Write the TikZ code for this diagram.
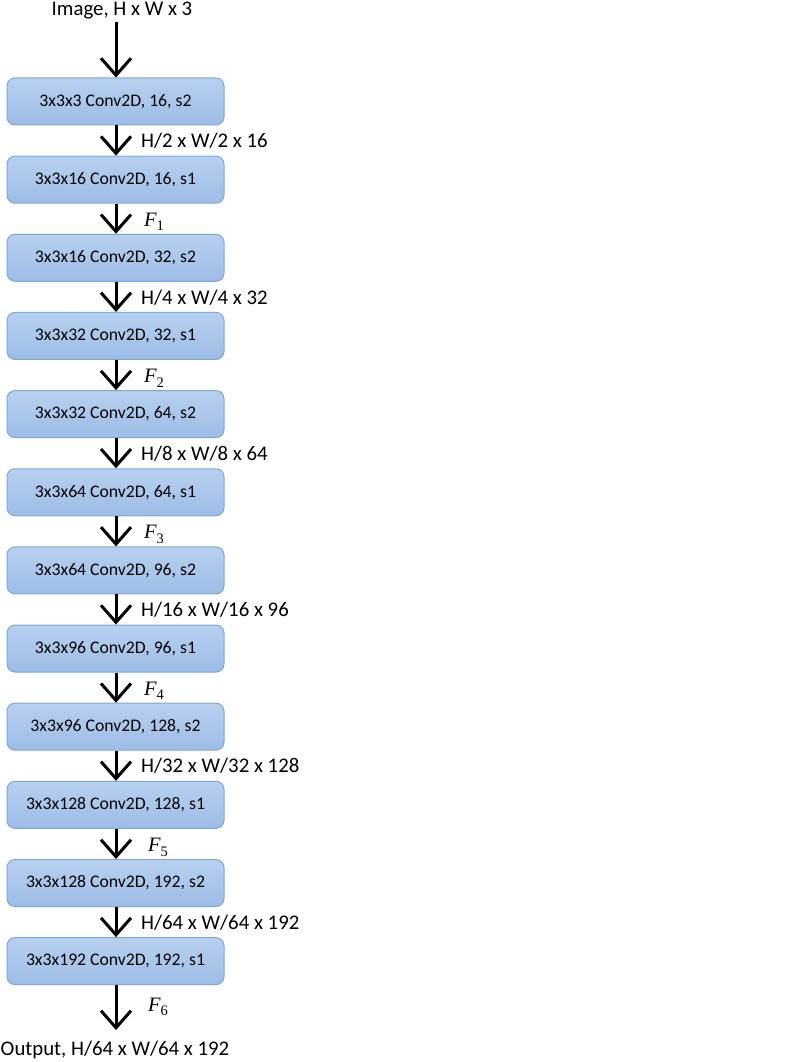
\documentclass[tikz,border=0pt]{standalone}
\usepackage{fontspec}
\setmainfont{Carlito}
\newfontfamily\fserif{Liberation Serif}
\usetikzlibrary{arrows.meta}
\definecolor{boxtop}{HTML}{B8D0F0}
\definecolor{boxbot}{HTML}{9CBDE6}
\definecolor{boxline}{HTML}{7FA6D8}
\newcommand{\featmap}[1]{{\fserif\itshape F}\raisebox{-4.5pt}{\fserif\fontsize{14.5}{15}\selectfont #1}}
\tikzset{
  layer/.style={draw=boxline, line width=1pt, rounded corners=8pt, top color=boxtop, bottom color=boxbot,
    minimum width=217pt, minimum height=47pt, inner sep=0pt, font=\fontsize{17.7}{20}\selectfont},
  flow/.style={line width=3pt, -{Straight Barb[length=17pt,width=30pt]}},
  dimlabel/.style={anchor=west, inner sep=0pt, font=\fontsize{20.8}{24}\selectfont},
  flabel/.style={anchor=west, inner sep=0pt, font=\fontsize{20.5}{24}\selectfont},
  endlabel/.style={inner sep=0pt, font=\fontsize{20.8}{24}\selectfont}
}
\begin{document}
\begin{tikzpicture}[x=1pt,y=-1pt]
\useasboundingbox (0,0) rectangle (787,1062);
\node[endlabel] (in) at (122,11) {Image, H x W x 3};
\coordinate (instart) at (116,22);
\foreach \i/\t in {1/{3x3x3 Conv2D, 16, s2},2/{3x3x16 Conv2D, 16, s1},3/{3x3x16 Conv2D, 32, s2},4/{3x3x32 Conv2D, 32, s1},5/{3x3x32 Conv2D, 64, s2},6/{3x3x64 Conv2D, 64, s1},7/{3x3x64 Conv2D, 96, s2},8/{3x3x96 Conv2D, 96, s1},9/{3x3x96 Conv2D, 128, s2},10/{3x3x128 Conv2D, 128, s1},11/{3x3x128 Conv2D, 192, s2},12/{3x3x192 Conv2D, 192, s1}}
  \node[layer] (b\i) at (115.5,{101.5+(\i-1)*78.15}) {\t};
\draw[flow] (instart) -- (b1.north -| instart);
\foreach \a/\b in {1/2,2/3,3/4,4/5,5/6,6/7,7/8,8/9,9/10,10/11,11/12}
  \draw[flow] (b\a.south -| instart) -- (b\b.north -| instart);
\coordinate (outend) at (116,1030);
\draw[flow] (b12.south -| instart) -- (outend);
\node[endlabel] (out) at (115,1050) {Output, H/64 x W/64 x 192};
% labels
\node[dimlabel] (l1) at (141,{141+0*156.3}) {H/2 x W/2 x 16};
\node[dimlabel] (l3) at (141,{141+1*156.3}) {H/4 x W/4 x 32};
\node[dimlabel] (l5) at (141,{141+2*156.3}) {H/8 x W/8 x 64};
\node[dimlabel] (l7) at (141,{141+3*156.3}) {H/16 x W/16 x 96};
\node[dimlabel] (l9) at (141,{141+4*156.3}) {H/32 x W/32 x 128};
\node[dimlabel] (l11) at (141,{141+5*156.3}) {H/64 x W/64 x 192};
\node[flabel] (f1) at (144,{222+0*156.3}) {\featmap{1}};
\node[flabel] (f2) at (144,{222+1*156.3}) {\featmap{2}};
\node[flabel] (f3) at (144,{222+2*156.3}) {\featmap{3}};
\node[flabel] (f4) at (144,{222+3*156.3}) {\featmap{4}};
\node[flabel] (f5) at (148,{222+4*156.3}) {\featmap{5}};
\node[flabel] (f6) at (148,1007) {\featmap{6}};
\end{tikzpicture}
\end{document}
